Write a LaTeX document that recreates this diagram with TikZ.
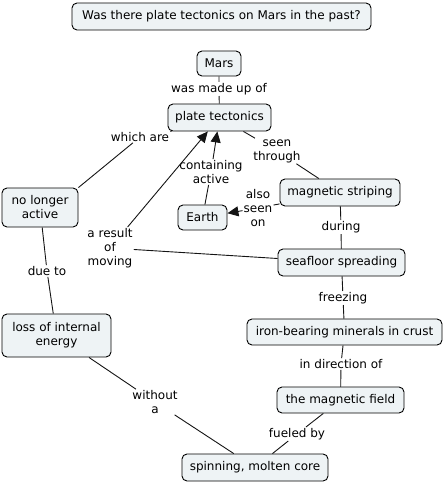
\documentclass[tikz,border=0pt]{standalone}
\usepackage{fontspec}
\setmainfont{DejaVu Sans}
\usetikzlibrary{arrows.meta}
\definecolor{boxfill}{RGB}{238,243,245}
\definecolor{linec}{RGB}{20,20,20}
\begin{document}
\begin{tikzpicture}[x=1pt,y=-1pt,
  concept/.style={draw=black, fill=boxfill, rounded corners=5pt, line width=0.9pt, inner sep=0pt, align=center, font=\fontsize{12}{14}\selectfont},
  lbl/.style={inner sep=1pt, align=center, font=\fontsize{12}{14}\selectfont},
  conn/.style={draw=linec, line width=0.9pt},
  arr/.style={conn, -{Triangle[length=11pt,width=10pt]}}]
\useasboundingbox (0,0) rectangle (444,484);
\node[concept, minimum width=299, minimum height=27] (title) at (221.5,16.5) {Was there plate tectonics on Mars in the past?};
\node[concept, minimum width=44, minimum height=25] (mars) at (219,63.5) {Mars};
\node[concept, minimum width=103, minimum height=27] (pt) at (219.5,117.5) {plate tectonics};
\node[concept, minimum width=120, minimum height=27] (ms) at (340,192.5) {magnetic striping};
\node[concept, minimum width=49, minimum height=25] (earth) at (202.5,217.5) {Earth};
\node[concept, minimum width=76, minimum height=39] (nla) at (40,207.5) {no longer\\active};
\node[concept, minimum width=127, minimum height=27] (sf) at (341.5,262.5) {seafloor spreading};
\node[concept, minimum width=195, minimum height=26] (iron) at (344.5,332) {iron-bearing minerals in crust};
\node[concept, minimum width=109, minimum height=43] (loss) at (56.5,335.5) {loss of internal\\energy};
\node[concept, minimum width=127, minimum height=26] (mf) at (340.5,400) {the magnetic field};
\node[concept, minimum width=146, minimum height=27] (core) at (255,467.5) {spinning, molten core};

\node[lbl] (l1) at (219,89) {was made up of};
\node[lbl] (l2) at (140,137) {which are};
\node[lbl] (l3) at (277,151) {seen\\through};
\node[lbl] (l4) at (211,172) {containing\\active};
\node[lbl] (l5) at (258,208) {also\\seen\\on};
\node[lbl] (l6) at (110,248) {a result\\of\\moving};
\node[lbl] (l7) at (341,227) {during};
\node[lbl] (l8) at (47,271) {due to};
\node[lbl] (l9) at (343,298) {freezing};
\node[lbl] (l10) at (341,364) {in direction of};
\node[lbl] (l11) at (155,402) {without\\a};
\node[lbl] (l12) at (297,434) {fueled by};

\draw[conn] (mars) -- (l1) -- (pt);
\draw[conn] (pt.south west) ++(4,0) coordinate (ptsw) (ptsw) -- (l2.north east);
\draw[conn] (l2) -- (nla.north east);
\draw[conn] (pt) -- (l3);
\draw[conn] (l3) -- (ms);
\draw[conn] (earth) -- (l4);
\draw[arr] (l4) -- (pt);
\draw[conn] (ms) -- (l5);
\draw[arr] (l5) -- (earth);
\draw[conn] (sf) -- (l6);
\draw[arr] (l6) -- (pt);
\draw[conn] (ms) -- (l7) -- (sf);
\draw[conn] (nla) -- (l8) -- (loss);
\draw[conn] (sf) -- (l9) -- (iron);
\draw[conn] (iron) -- (l10) -- (mf);
\draw[conn] (loss) -- (l11) -- (core);
\draw[conn] (mf) -- (l12) -- (core);
\end{tikzpicture}
\end{document}
